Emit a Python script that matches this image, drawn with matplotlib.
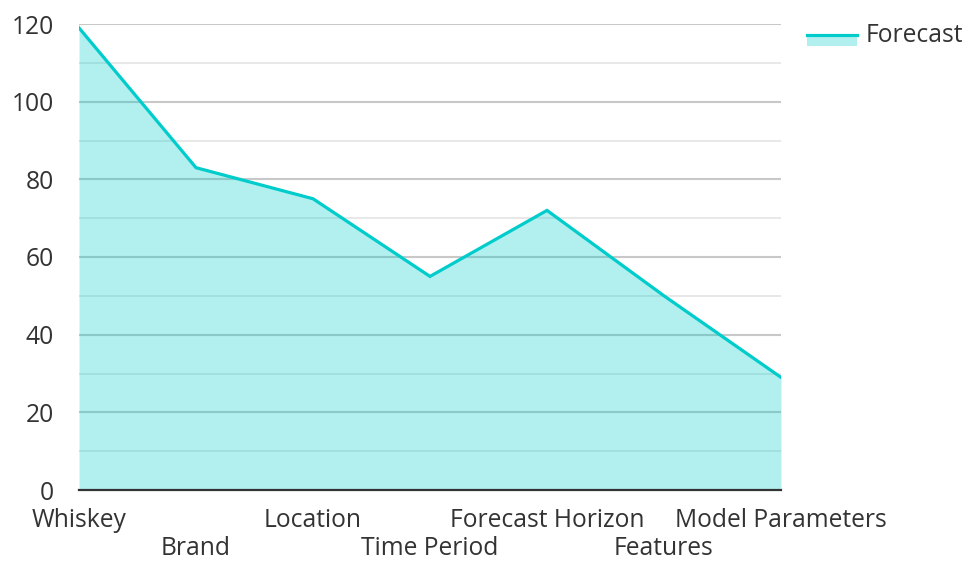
import matplotlib
matplotlib.use("Agg")
import matplotlib.pyplot as plt
from matplotlib.patches import Rectangle
from matplotlib.lines import Line2D

categories = ["Whiskey", "Brand", "Location", "Time Period", "Forecast Horizon", "Features", "Model Parameters"]
forecast = [119, 83, 75, 55, 72, 50, 29]
y_ticks = [0, 20, 40, 60, 80, 100, 120]
y_minor = [10, 30, 50, 70, 90, 110]

plt.rcParams['font.family'] = ['Open Sans', 'DejaVu Sans']

W, H = 968, 562
FS = 17.7
fig = plt.figure(figsize=(W / 100, H / 100), dpi=100)
ax = fig.add_axes([79 / W, (H - 490) / H, 702 / W, 466 / H])

line_color = '#00cccc'
fill_color = '#00cccc'

x = list(range(len(categories)))
ax.set_xlim(0, len(categories) - 1)
ax.set_ylim(0, 120)

for v in y_minor:
    ax.axhline(v, color='#e6e6e6', lw=1.3, zorder=0)
for v in y_ticks[1:]:
    ax.axhline(v, color='#c8c8c8', lw=1.5, zorder=0)

ax.fill_between(x, forecast, 0, color=fill_color, alpha=0.3, lw=0, zorder=1)
ax.plot(x, forecast, color=line_color, lw=2.3, zorder=3, solid_joinstyle='miter')

for s in ['top', 'right', 'left']:
    ax.spines[s].set_visible(False)
ax.spines['bottom'].set_color('#333333')
ax.spines['bottom'].set_linewidth(1.6)
ax.spines['bottom'].set_zorder(4)

ax.set_yticks(y_ticks)
ax.set_yticklabels([str(v) for v in y_ticks])
ax.tick_params(axis='y', which='both', length=0, pad=18, labelsize=FS, labelcolor='#333333')
ax.set_yticks([], minor=True)

even = [i for i in x if i % 2 == 0]
odd = [i for i in x if i % 2 == 1]
ax.set_xticks(even)
ax.set_xticklabels([categories[i] for i in even])
ax.set_xticks(odd, minor=True)
ax.set_xticklabels([categories[i] for i in odd], minor=True)
ax.tick_params(axis='x', which='major', length=0, pad=13, labelsize=FS, labelcolor='#333333')
ax.tick_params(axis='x', which='minor', length=0, pad=33, labelsize=FS, labelcolor='#333333')

# legend
fig.patches.append(Rectangle((807 / W, (H - 46) / H), 50 / W, 12 / H, transform=fig.transFigure,
                             facecolor=fill_color, alpha=0.3, lw=0))
fig.lines.append(Line2D([807 / W, 857 / W], [(H - 35) / H, (H - 35) / H], transform=fig.transFigure,
                        color=line_color, lw=2.3))
fig.text(866 / W, (H - 36) / H, "Forecast", fontsize=FS, color='#333333', va='center', ha='left')

fig.savefig("out.png", dpi=100)
